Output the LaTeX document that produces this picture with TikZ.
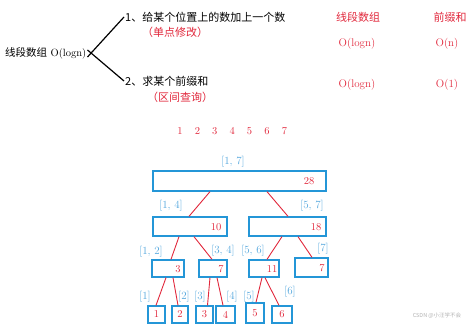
\documentclass[tikz,border=0pt]{standalone}
\usepackage{fontspec}
\newfontfamily\cjk{Noto Sans CJK SC}
\usetikzlibrary{positioning}
\definecolor{segblue}{RGB}{36,150,215}
\definecolor{labblue}{RGB}{80,165,220}
\definecolor{numred}{RGB}{225,40,60}
\begin{document}
\begin{tikzpicture}[x=1pt, y=-1pt,
    every node/.style={font=\fontsize{11}{13}\selectfont, inner sep=1pt},
    seg/.style={draw=segblue, line width=1.3pt, minimum height=17pt, inner sep=0pt},
    val/.style={text=numred, font=\fontsize{10.5}{12}\selectfont},
    rng/.style={text=labblue, font=\fontsize{11}{12}\selectfont},
    branch/.style={black, line width=1.2pt},
    link/.style={numred, line width=0.9pt},
]
\useasboundingbox (0,0) rectangle (474,326);
% overview
\node[anchor=west, font=\fontsize{10.5}{12}\selectfont] (ds) at (4,53) {{\cjk 线段数组} O(logn)};
\node[anchor=west] (op1) at (124,17) {\cjk 1、给某个位置上的数加上一个数};
\node[anchor=west, text=numred] (op1n) at (141,32) {\cjk （单点修改）};
\node[anchor=west] (op2) at (124,81) {\cjk 2、求某个前缀和};
\node[anchor=west, text=numred] (op2n) at (146,97) {\cjk （区间查询）};
\draw[branch] ([yshift=-4pt]ds.east) -- (op1.west);
\draw[branch] ([yshift=3pt]ds.east) -- (op2.west);
\node[text=numred] (hseg) at (358,17) {\cjk 线段数组};
\node[text=numred] (hpre) at (450,17) {\cjk 前缀和};
\node[text=numred] (c1seg) at (357,44) {O(logn)};
\node[text=numred] (c1pre) at (447,44) {O(n)};
\node[text=numred] (c2seg) at (357,85) {O(logn)};
\node[text=numred] (c2pre) at (447,85) {O(1)};
% array
\foreach \i in {1,...,7}
  \node[val] (a\i) at ({180+17.4*(\i-1)},131) {\i};
% tree
\node[seg, minimum width=173pt, minimum height=20pt] (root) at (239.5,181) {};
\node[seg, minimum width=74pt, minimum height=19pt] (n14) at (190,226.5) {};
\node[seg, minimum width=77pt, minimum height=19pt] (n57) at (287.5,226.5) {};
\node[seg, minimum width=32pt] (n12) at (168,268.5) {};
\node[seg, minimum width=28pt] (n34) at (213,268.5) {};
\node[seg, minimum width=30pt] (n56) at (264,268.5) {};
\node[seg, minimum width=33pt, minimum height=19pt] (n77) at (311.5,267.5) {};
\node[seg, minimum width=17pt] (n11) at (156.5,314.5) {};
\node[seg, minimum width=16pt] (n22) at (180,314.5) {};
\node[seg, minimum width=17pt] (n33) at (204.5,314.5) {};
\node[seg, minimum width=19pt] (n44) at (225.5,314.5) {};
\node[seg, minimum width=18pt, minimum height=20pt] (n55) at (255,313) {};
\node[seg, minimum width=20pt] (n66) at (282,314.5) {};
% sums
\node[val] (v17) at (309,181) {28};
\node[val] (v14) at (216,227) {10};
\node[val] (v57) at (316,227) {18};
\node[val] (v12) at (178,269) {3};
\node[val] (v34) at (221,269) {7};
\node[val] (v56) at (272,269) {11};
\node[val] (v77) at (322,268) {7};
\foreach \k/\t in {11/1,22/2,33/3,44/4,55/5,66/6}
  \node[val] (v\k) at (n\k) {\t};
% ranges
\node[rng] (r17) at (233,162) {[1, 7]};
\node[rng] (r14) at (171,206) {[1, 4]};
\node[rng] (r57) at (312,206) {[5, 7]};
\node[rng] (r12) at (151,252) {[1, 2]};
\node[rng] (r34) at (223,251) {[3, 4]};
\node[rng] (r56) at (253,251) {[5, 6]};
\node[rng] (r77) at (323,249) {[7]};
\node[rng] (r11) at (145,297) {[1]};
\node[rng] (r22) at (184,297) {[2]};
\node[rng] (r33) at (200,297) {[3]};
\node[rng] (r44) at (232,297) {[4]};
\node[rng] (r55) at (249,297) {[5]};
\node[rng] (r66) at (290,292) {[6]};
% edges
\draw[link] ([xshift=-29.5pt]root.south) -- ([xshift=-1pt]n14.north);
\draw[link] ([xshift=27.5pt]root.south) -- ([xshift=0.5pt]n57.north);
\draw[link] ([xshift=-11pt]n14.south) -- ([xshift=3pt]n12.north);
\draw[link] ([xshift=4pt]n14.south) -- ([xshift=-1pt]n34.north);
\draw[link] ([xshift=-5.5pt]n57.south) -- ([xshift=3pt]n56.north);
\draw[link] ([xshift=10.5pt]n57.south) -- ([xshift=0.5pt]n77.north);
\draw[link] ([xshift=-2pt]n12.south) -- ([xshift=-0.5pt]n11.north);
\draw[link] ([xshift=5pt]n12.south) -- ([xshift=-2pt]n22.north);
\draw[link] ([xshift=-3pt]n34.south) -- ([xshift=3pt]n33.north);
\draw[link] ([xshift=4pt]n34.south) -- ([xshift=-2.5pt]n44.north);
\draw[link] ([xshift=-2pt]n56.south) -- ([xshift=1pt]n55.north);
\draw[link] ([xshift=1pt]n56.south) -- ([xshift=-3pt]n66.north);
% watermark
\node[text=gray!60, font=\fontsize{5.5}{6}\selectfont] (wm) at (437,316) {\cjk CSDN @小汪学不会};
\end{tikzpicture}
\end{document}
